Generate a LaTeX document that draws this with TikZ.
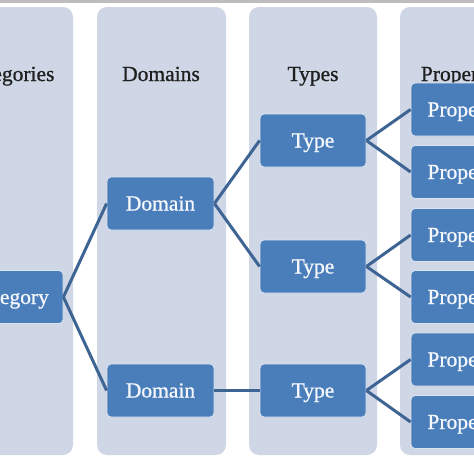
\documentclass[tikz,border=0pt]{standalone}
\usepackage{fontspec}
\setmainfont{Liberation Serif}[RawFeature={embolden=0.9}]
\definecolor{colbg}{HTML}{CFD6E5}
\definecolor{boxfill}{HTML}{4A7EBB}
\definecolor{linec}{HTML}{3E6494}
\definecolor{topbar}{HTML}{BDBDBD}
\begin{document}
\begin{tikzpicture}[x=1pt,y=-1pt,
  column/.style={fill=colbg, rounded corners=10pt},
  header/.style={anchor=base, inner sep=0pt, font=\fontsize{21.5}{25}\selectfont, text=black!88},
  box/.style={fill=boxfill, draw=white!80!boxfill, line width=0.8pt, rounded corners=4pt,
    minimum width=107pt, minimum height=53pt, inner sep=0pt, text=white!94!boxfill,
    font=\fontsize{21.5}{25}\selectfont, text height=16pt, text depth=2pt},
  link/.style={draw=linec, line width=3pt}]
\useasboundingbox (0,0) rectangle (474,474);
\clip (0,0) rectangle (474,474);
\fill[white] (0,0) rectangle (474,474);
\fill[topbar] (0,0) rectangle (474,2.5);
% columns
\path[column] (-56,7) rectangle (73,455);
\path[column] (97,7) rectangle (226,455);
\path[column] (249,7) rectangle (377,455);
\path[column] (400,7) rectangle (529,455);
% headers
\node[header] (hcat) at (8.5,81) {Categories};
\node[header] (hdom) at (161,81) {Domains};
\node[header] (htyp) at (313,81) {Types};
\node[header] (hpro) at (464.5,81) {Properties};
% boxes
\node[box] (cat) at (9.5,297) {Category};
\node[box] (dom1) at (160.5,203.5) {Domain};
\node[box] (dom2) at (160.5,390.5) {Domain};
\node[box, minimum width=106pt] (typ1) at (313,140.5) {Type};
\node[box, minimum width=106pt] (typ2) at (313,266.5) {Type};
\node[box, minimum width=106pt] (typ3) at (313,390.5) {Type};
\node[box] (p1) at (464.5,109.5) {Property};
\node[box] (p2) at (464.5,172) {Property};
\node[box] (p3) at (464.5,235) {Property};
\node[box] (p4) at (464.5,297) {Property};
\node[box] (p5) at (464.5,359.5) {Property};
\node[box] (p6) at (464.5,422) {Property};
% links
\draw[link] (cat.east) -- (dom1.west);
\draw[link] (cat.east) -- (dom2.west);
\draw[link] (dom1.east) -- (typ1.west);
\draw[link] (dom1.east) -- (typ2.west);
\draw[link] (dom2.east) -- (typ3.west);
\draw[link] (typ1.east) -- (p1.west);
\draw[link] (typ1.east) -- (p2.west);
\draw[link] (typ2.east) -- (p3.west);
\draw[link] (typ2.east) -- (p4.west);
\draw[link] (typ3.east) -- (p5.west);
\draw[link] (typ3.east) -- (p6.west);
\end{tikzpicture}
\end{document}
